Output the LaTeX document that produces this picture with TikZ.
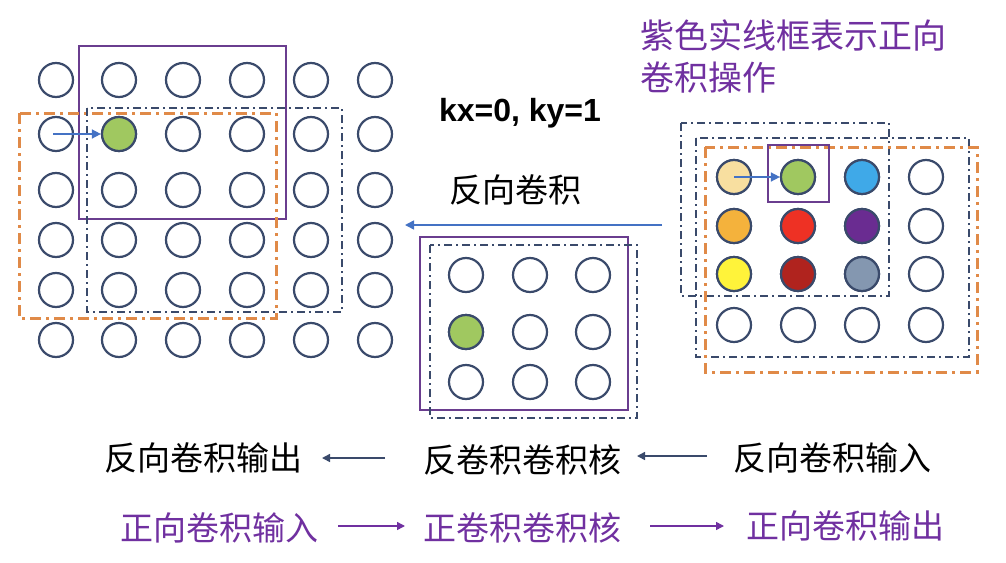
\documentclass[tikz,border=0pt]{standalone}
\usepackage{fontspec}
\setmainfont{Liberation Sans}
\newfontfamily\cjk{Noto Sans CJK SC}
\usetikzlibrary{arrows.meta}
\definecolor{navy}{HTML}{3A4A6B}
\definecolor{pur}{HTML}{6A3D8F}
\definecolor{org}{HTML}{E08A48}
\definecolor{arr}{HTML}{4472C4}
\definecolor{txtp}{HTML}{7030A0}
\begin{document}
\begin{tikzpicture}[x=1pt,y=-1pt,
  dot/.style={circle,draw=navy,line width=2.2pt,minimum size=34pt,inner sep=0pt},
  pbox/.style={draw=pur,line width=2.2pt},
  nbox/.style={draw=navy,line width=1.8pt,dash pattern=on 8pt off 4pt on 2pt off 4pt},
  obox/.style={draw=org,line width=3pt,dash pattern=on 11pt off 5pt on 3pt off 5pt},
  ar/.style={draw=arr,line width=1.5pt,-{Triangle[length=9pt,width=9pt]}},
  ar2/.style={draw=navy,line width=1.5pt,-{Triangle[length=8pt,width=8pt]}},
  ar3/.style={draw=txtp,line width=1.5pt,-{Triangle[length=8pt,width=8pt]}},
  lab/.style={font=\cjk\fontsize{33}{36}\selectfont,inner sep=0pt},
  labp/.style={lab,text=txtp}]
\useasboundingbox (0,0) rectangle (1006,562);
% left grid
\foreach \x [count=\i] in {56,119,183,247,311,375}
  \foreach \y [count=\j] in {80,134,190,240,290,340}
    \node[dot] (L\i\j) at (\x,\y) {};
\node[dot,fill={rgb,255:red,160;green,200;blue,96}] at (L22) {};
\draw[pbox] (79,46) rectangle (286,219);
\draw[obox] (19,113) rectangle (276,318);
\draw[nbox] (87,108) rectangle (342,312);
\coordinate (la) at (53,134);
\draw[ar] (la) -- (L22.west);
% middle
\foreach \x [count=\i] in {466,530,593}
  \foreach \y [count=\j] in {275,332,382}
    \node[dot] (M\i\j) at (\x,\y) {};
\node[dot,fill={rgb,255:red,160;green,200;blue,96}] at (M12) {};
\draw[pbox] (420,237) rectangle (628,410);
\draw[nbox] (430,245) rectangle (637,418);
\coordinate (ls) at (662,225); \coordinate (le) at (405,225);
\draw[ar] (ls) -- (le);
% right grid
\foreach \x [count=\i] in {734,798,862,926}
  \foreach \y [count=\j] in {177,226,274,325}
    \node[dot] (R\i\j) at (\x,\y) {};
\node[dot,fill={rgb,255:red,248;green,223;blue,160}] at (R11) {};
\node[dot,fill={rgb,255:red,160;green,200;blue,96}] at (R21) {};
\node[dot,fill={rgb,255:red,63;green,169;blue,232}] at (R31) {};
\node[dot,fill={rgb,255:red,244;green,178;blue,60}] at (R12) {};
\node[dot,fill={rgb,255:red,238;green,49;blue,36}] at (R22) {};
\node[dot,fill={rgb,255:red,106;green,44;blue,145}] at (R32) {};
\node[dot,fill={rgb,255:red,255;green,243;blue,58}] at (R13) {};
\node[dot,fill={rgb,255:red,176;green,35;blue,30}] at (R23) {};
\node[dot,fill={rgb,255:red,132;green,151;blue,176}] at (R33) {};
\draw[nbox] (681,123) rectangle (889,296);
\draw[nbox] (696,138) rectangle (969,357);
\draw[obox] (705,147) rectangle (977,372);
\draw[pbox] (768,145) rectangle (829,202);
\draw[ar] (R11.center) -- (R21.west);
% texts
\node[font=\bfseries\fontsize{32}{36}\selectfont] (kx) at (520,113) {kx=0, ky=1};
\node[lab] (fx) at (515,190) {反向卷积};
\node[labp,align=left,anchor=north west,font=\cjk\fontsize{34}{42}\selectfont] (note) at (640,20) {紫色实线框表示正向\\卷积操作};
\node[lab] (t1) at (203,458) {反向卷积输出};
\node[lab] (t2) at (522,460) {反卷积卷积核};
\node[lab] (t3) at (832,458) {反向卷积输入};
\coordinate (a1s) at (385,458); \coordinate (a1e) at (322,458);
\coordinate (a2s) at (707,456); \coordinate (a2e) at (637,456);
\draw[ar2] (a1s) -- (a1e);
\draw[ar2] (a2s) -- (a2e);
\node[labp] (p1) at (219,528) {正向卷积输入};
\node[labp] (p2) at (522,528) {正卷积卷积核};
\node[labp] (p3) at (845,526) {正向卷积输出};
\coordinate (b1s) at (338,526); \coordinate (b1e) at (405,526);
\coordinate (b2s) at (650,526); \coordinate (b2e) at (724,526);
\draw[ar3] (b1s) -- (b1e);
\draw[ar3] (b2s) -- (b2e);
\end{tikzpicture}
\end{document}
